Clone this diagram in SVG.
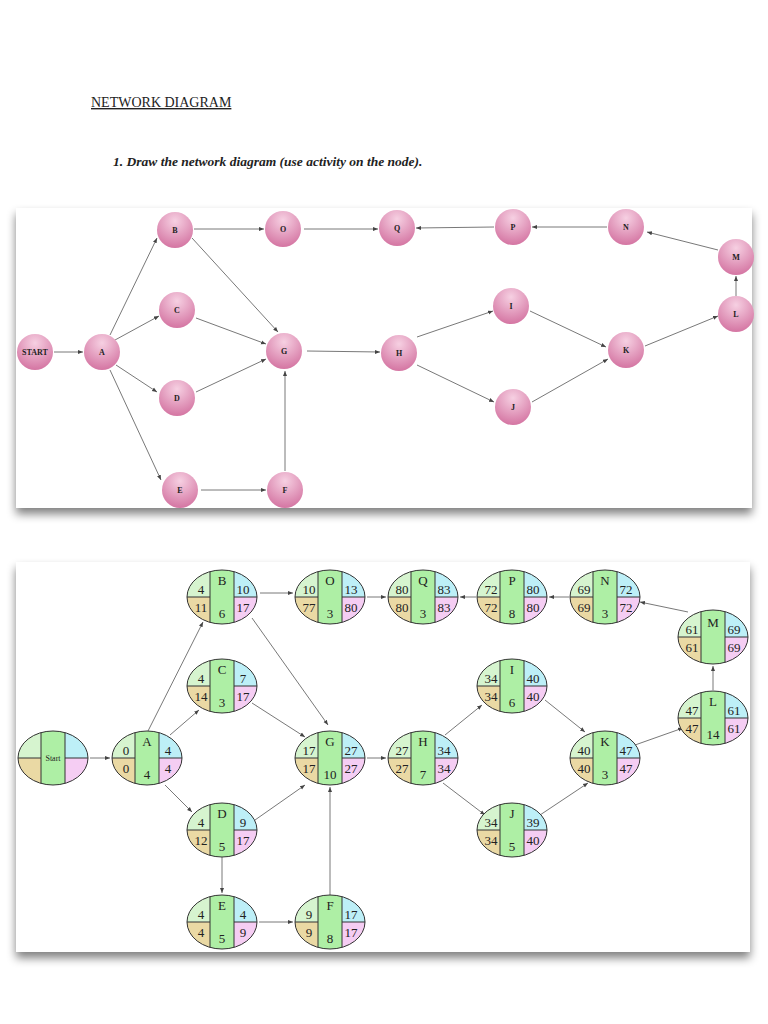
<svg xmlns="http://www.w3.org/2000/svg" xmlns:xlink="http://www.w3.org/1999/xlink" width="768" height="1024" viewBox="0 0 768 1024">
<style>
.t{font-family:"Liberation Serif",serif;fill:#222}
.tl{font-family:"Liberation Serif",serif;font-size:8px;font-weight:bold;text-anchor:middle;fill:#222}
.n{font-family:"Liberation Serif",serif;font-size:13px;text-anchor:middle;fill:#222}
.e{stroke:#555;stroke-width:0.8;fill:none;marker-end:url(#ar)}
.ln{stroke:#333;stroke-width:1;fill:none}
</style>
<defs>
<marker id="ar" markerWidth="6" markerHeight="6" refX="5" refY="3" orient="auto" markerUnits="userSpaceOnUse"><path d="M0,1 L5,3 L0,5Z" fill="#444"/></marker>
<radialGradient id="pk" cx="0.5" cy="0.25" r="0.8"><stop offset="0" stop-color="#f6d0e2"/><stop offset="1" stop-color="#d26f9e"/></radialGradient>
<filter id="sh" x="-5%" y="-5%" width="110%" height="120%"><feGaussianBlur in="SourceAlpha" stdDeviation="5"/><feOffset dy="6"/><feComponentTransfer><feFuncA type="linear" slope="0.5"/></feComponentTransfer><feMerge><feMergeNode/><feMergeNode in="SourceGraphic"/></feMerge></filter>
<g id="nd">
<path d="M-12,0 H-35 A35,27 0 0 1 -12,-25.4 Z" fill="#d6f4cf"/>
<path d="M-12,0 H-35 A35,27 0 0 0 -12,25.4 Z" fill="#ead9a4"/>
<path d="M12,0 H35 A35,27 0 0 0 12,-25.4 Z" fill="#bdeff7"/>
<path d="M12,0 H35 A35,27 0 0 1 12,25.4 Z" fill="#f5cdf3"/>
<path d="M-12,-25.4 A35,27 0 0 1 12,-25.4 V25.4 A35,27 0 0 1 -12,25.4 Z" fill="#aeefa5"/>
<path d="M-35,0 H-12 M12,0 H35 M-12,-25.4 V25.4 M12,-25.4 V25.4" class="ln"/>
<ellipse rx="35" ry="27" class="ln"/>
</g>
<circle id="pc" r="18" fill="url(#pk)"/>
</defs>
<rect width="768" height="1024" fill="#fff"/>
<text x="91" y="107" class="t" font-size="14" text-decoration="underline">NETWORK DIAGRAM</text>
<text x="113" y="166" class="t" font-size="13.5" font-style="italic" font-weight="bold">1.   Draw the network diagram (use activity on the node).</text>

<rect x="16" y="208" width="736" height="300" fill="#fff" filter="url(#sh)"/>
<rect x="16" y="562" width="734" height="390" fill="#fff" filter="url(#sh)"/>

<g id="top-connectors">
<line class="e" x1="54" y1="352" x2="83" y2="352"/>
<line class="e" x1="110" y1="335" x2="157" y2="238"/>
<line class="e" x1="115" y1="340" x2="159" y2="316"/>
<line class="e" x1="116" y1="365" x2="157" y2="392"/>
<line class="e" x1="110" y1="370" x2="161" y2="480"/>
<line class="e" x1="194" y1="229" x2="264" y2="229"/>
<line class="e" x1="192" y1="238" x2="278" y2="332"/>
<line class="e" x1="196" y1="318" x2="266" y2="344"/>
<line class="e" x1="196" y1="392" x2="266" y2="359"/>
<line class="e" x1="201" y1="490" x2="266" y2="490"/>
<line class="e" x1="285" y1="471" x2="285" y2="371"/>
<line class="e" x1="304" y1="229" x2="378" y2="229"/>
<line class="e" x1="307" y1="351" x2="380" y2="352"/>
<line class="e" x1="417" y1="337" x2="493" y2="311"/>
<line class="e" x1="417" y1="365" x2="494" y2="402"/>
<line class="e" x1="530" y1="311" x2="606" y2="347"/>
<line class="e" x1="532" y1="402" x2="608" y2="359"/>
<line class="e" x1="645" y1="346" x2="718" y2="316"/>
<line class="e" x1="736" y1="296" x2="736" y2="276"/>
<line class="e" x1="718" y1="250" x2="647" y2="232"/>
<line class="e" x1="607" y1="227" x2="532" y2="227"/>
<line class="e" x1="494" y1="227" x2="416" y2="228"/>
</g>
<g id="t-START"><use href="#pc" x="35" y="352"/><text x="35" y="354.5" class="tl" font-size="6">START</text></g>
<g id="t-A"><use href="#pc" x="102" y="352"/><text x="102" y="355" class="tl">A</text></g>
<g id="t-B"><use href="#pc" x="175" y="230"/><text x="175" y="233" class="tl">B</text></g>
<g id="t-C"><use href="#pc" x="177" y="310"/><text x="177" y="313" class="tl">C</text></g>
<g id="t-D"><use href="#pc" x="177" y="398"/><text x="177" y="401" class="tl">D</text></g>
<g id="t-E"><use href="#pc" x="180" y="490"/><text x="180" y="493" class="tl">E</text></g>
<g id="t-O"><use href="#pc" x="283" y="229"/><text x="283" y="232" class="tl">O</text></g>
<g id="t-G"><use href="#pc" x="284" y="351"/><text x="284" y="354" class="tl">G</text></g>
<g id="t-F"><use href="#pc" x="285" y="490"/><text x="285" y="493" class="tl">F</text></g>
<g id="t-Q"><use href="#pc" x="397" y="228"/><text x="397" y="231" class="tl">Q</text></g>
<g id="t-H"><use href="#pc" x="399" y="353"/><text x="399" y="356" class="tl">H</text></g>
<g id="t-P"><use href="#pc" x="513" y="227"/><text x="513" y="230" class="tl">P</text></g>
<g id="t-I"><use href="#pc" x="511" y="306"/><text x="511" y="309" class="tl">I</text></g>
<g id="t-J"><use href="#pc" x="513" y="407"/><text x="513" y="410" class="tl">J</text></g>
<g id="t-N"><use href="#pc" x="626" y="227"/><text x="626" y="230" class="tl">N</text></g>
<g id="t-K"><use href="#pc" x="626" y="350"/><text x="626" y="353" class="tl">K</text></g>
<g id="t-M"><use href="#pc" x="736" y="257"/><text x="736" y="260" class="tl">M</text></g>
<g id="t-L"><use href="#pc" x="736" y="314"/><text x="736" y="317" class="tl">L</text></g>

<g id="bottom-connectors">
<line class="e" x1="90" y1="758" x2="110" y2="758"/>
<line class="e" x1="148" y1="731" x2="203" y2="622"/>
<line class="e" x1="170" y1="735" x2="199" y2="710"/>
<line class="e" x1="165" y1="785" x2="192" y2="812"/>
<line class="e" x1="260" y1="593" x2="293" y2="593"/>
<line class="e" x1="252" y1="618" x2="328" y2="725"/>
<line class="e" x1="252" y1="703" x2="305" y2="737"/>
<line class="e" x1="255" y1="820" x2="305" y2="785"/>
<line class="e" x1="222" y1="857" x2="222" y2="893"/>
<line class="e" x1="259" y1="922" x2="293" y2="922"/>
<line class="e" x1="330" y1="895" x2="330" y2="787"/>
<line class="e" x1="367" y1="597" x2="386" y2="597"/>
<line class="e" x1="367" y1="758" x2="386" y2="758"/>
<line class="e" x1="445" y1="735" x2="482" y2="705"/>
<line class="e" x1="443" y1="783" x2="485" y2="815"/>
<line class="e" x1="545" y1="700" x2="585" y2="732"/>
<line class="e" x1="540" y1="815" x2="588" y2="783"/>
<line class="e" x1="635" y1="745" x2="683" y2="728"/>
<line class="e" x1="713" y1="690" x2="713" y2="666"/>
<line class="e" x1="688" y1="612" x2="640" y2="602"/>
<line class="e" x1="569" y1="597" x2="549" y2="597"/>
<line class="e" x1="476" y1="597" x2="460" y2="597"/>
</g>

<g id="b-Start"><use href="#nd" x="53" y="758"/><text x="53" y="761" class="t" font-size="8" text-anchor="middle">Start</text></g>
<g id="b-A"><use href="#nd" x="147" y="758"/><text class="n" x="147" y="746">A</text><text class="n" x="147" y="779">4</text><text class="n" x="126" y="755">0</text><text class="n" x="126" y="773">0</text><text class="n" x="168" y="755">4</text><text class="n" x="168" y="773">4</text></g>
<g id="b-B"><use href="#nd" x="222" y="597"/><text class="n" x="222" y="585">B</text><text class="n" x="222" y="618">6</text><text class="n" x="201" y="594">4</text><text class="n" x="201" y="612">11</text><text class="n" x="243" y="594">10</text><text class="n" x="243" y="612">17</text></g>
<g id="b-C"><use href="#nd" x="222" y="686"/><text class="n" x="222" y="674">C</text><text class="n" x="222" y="707">3</text><text class="n" x="201" y="683">4</text><text class="n" x="201" y="701">14</text><text class="n" x="243" y="683">7</text><text class="n" x="243" y="701">17</text></g>
<g id="b-D"><use href="#nd" x="222" y="830"/><text class="n" x="222" y="818">D</text><text class="n" x="222" y="851">5</text><text class="n" x="201" y="827">4</text><text class="n" x="201" y="845">12</text><text class="n" x="243" y="827">9</text><text class="n" x="243" y="845">17</text></g>
<g id="b-E"><use href="#nd" x="222" y="922"/><text class="n" x="222" y="910">E</text><text class="n" x="222" y="943">5</text><text class="n" x="201" y="919">4</text><text class="n" x="201" y="937">4</text><text class="n" x="243" y="919">4</text><text class="n" x="243" y="937">9</text></g>
<g id="b-O"><use href="#nd" x="330" y="597"/><text class="n" x="330" y="585">O</text><text class="n" x="330" y="618">3</text><text class="n" x="309" y="594">10</text><text class="n" x="309" y="612">77</text><text class="n" x="351" y="594">13</text><text class="n" x="351" y="612">80</text></g>
<g id="b-G"><use href="#nd" x="330" y="758"/><text class="n" x="330" y="746">G</text><text class="n" x="330" y="779">10</text><text class="n" x="309" y="755">17</text><text class="n" x="309" y="773">17</text><text class="n" x="351" y="755">27</text><text class="n" x="351" y="773">27</text></g>
<g id="b-F"><use href="#nd" x="330" y="922"/><text class="n" x="330" y="910">F</text><text class="n" x="330" y="943">8</text><text class="n" x="309" y="919">9</text><text class="n" x="309" y="937">9</text><text class="n" x="351" y="919">17</text><text class="n" x="351" y="937">17</text></g>
<g id="b-Q"><use href="#nd" x="423" y="597"/><text class="n" x="423" y="585">Q</text><text class="n" x="423" y="618">3</text><text class="n" x="402" y="594">80</text><text class="n" x="402" y="612">80</text><text class="n" x="444" y="594">83</text><text class="n" x="444" y="612">83</text></g>
<g id="b-H"><use href="#nd" x="423" y="758"/><text class="n" x="423" y="746">H</text><text class="n" x="423" y="779">7</text><text class="n" x="402" y="755">27</text><text class="n" x="402" y="773">27</text><text class="n" x="444" y="755">34</text><text class="n" x="444" y="773">34</text></g>
<g id="b-P"><use href="#nd" x="512" y="597"/><text class="n" x="512" y="585">P</text><text class="n" x="512" y="618">8</text><text class="n" x="491" y="594">72</text><text class="n" x="491" y="612">72</text><text class="n" x="533" y="594">80</text><text class="n" x="533" y="612">80</text></g>
<g id="b-I"><use href="#nd" x="512" y="686"/><text class="n" x="512" y="674">I</text><text class="n" x="512" y="707">6</text><text class="n" x="491" y="683">34</text><text class="n" x="491" y="701">34</text><text class="n" x="533" y="683">40</text><text class="n" x="533" y="701">40</text></g>
<g id="b-J"><use href="#nd" x="512" y="830"/><text class="n" x="512" y="818">J</text><text class="n" x="512" y="851">5</text><text class="n" x="491" y="827">34</text><text class="n" x="491" y="845">34</text><text class="n" x="533" y="827">39</text><text class="n" x="533" y="845">40</text></g>
<g id="b-N"><use href="#nd" x="605" y="597"/><text class="n" x="605" y="585">N</text><text class="n" x="605" y="618">3</text><text class="n" x="584" y="594">69</text><text class="n" x="584" y="612">69</text><text class="n" x="626" y="594">72</text><text class="n" x="626" y="612">72</text></g>
<g id="b-K"><use href="#nd" x="605" y="758"/><text class="n" x="605" y="746">K</text><text class="n" x="605" y="779">3</text><text class="n" x="584" y="755">40</text><text class="n" x="584" y="773">40</text><text class="n" x="626" y="755">47</text><text class="n" x="626" y="773">47</text></g>
<g id="b-M"><use href="#nd" x="713" y="637"/><text class="n" x="713" y="627">M</text><text class="n" x="692" y="634">61</text><text class="n" x="692" y="652">61</text><text class="n" x="734" y="634">69</text><text class="n" x="734" y="652">69</text></g>
<g id="b-L"><use href="#nd" x="713" y="718"/><text class="n" x="713" y="706">L</text><text class="n" x="713" y="739">14</text><text class="n" x="692" y="715">47</text><text class="n" x="692" y="733">47</text><text class="n" x="734" y="715">61</text><text class="n" x="734" y="733">61</text></g>
</svg>
